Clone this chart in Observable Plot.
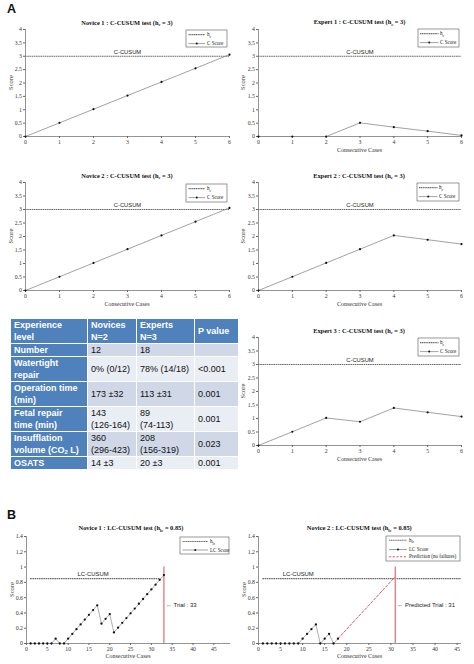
<!DOCTYPE html>
<html><head><meta charset="utf-8">
<script src="https://cdn.jsdelivr.net/npm/d3@7"></script>
<script src="https://cdn.jsdelivr.net/npm/@observablehq/plot@0.6"></script>
<style>
html,body{margin:0;padding:0;background:#fff;}
#root{position:relative;width:474px;height:664px;overflow:hidden;background:#fff;}
.tbl{position:absolute;left:10px;top:318px;width:228px;border-collapse:collapse;table-layout:fixed;font-family:"Liberation Sans",Arial,sans-serif;font-size:9px;line-height:12px;}
.tbl td{border:1px solid #fff;padding:0 0 0 3px;vertical-align:middle;overflow:hidden;white-space:nowrap;color:#111;}
.tbl td.h{background:#4f81bd;color:#fff;font-weight:bold;}
.tbl tr.d0 td.v{background:#d0d8e8;}
.tbl tr.d1 td.v{background:#e9edf4;}
.tbl sub{font-size:6px;line-height:0;vertical-align:-1px;}
</style></head>
<body><div id="root"></div>
<script>
// ---------- data ----------
const casesC = [0, 1, 2, 3, 4, 5, 6];
const novice1C = [0, 0.51, 1.02, 1.53, 2.04, 2.55, 3.06];
const novice2C = [0, 0.51, 1.02, 1.53, 2.04, 2.55, 3.06];
const expert1C = [0, 0, 0, 0.51, 0.35, 0.2, 0.04];
const expert2C = [0, 0.51, 1.02, 1.53, 2.04, 1.88, 1.72];
const expert3C = [0, 0.51, 1.02, 0.88, 1.39, 1.23, 1.07];
const hC = 3;
const cTicksX = [0, 1, 2, 3, 4, 5, 6];
const cTicksY = [0, 0.5, 1, 1.5, 2, 2.5, 3, 3.5, 4];

const novice1LC = [0, 0, 0, 0, 0, 0, 0.0625, 0, 0, 0.0625, 0.125, 0.1875, 0.25, 0.3125, 0.375, 0.4375, 0.5,
  0.26, 0.3225, 0.385, 0.145, 0.2075, 0.27, 0.3325, 0.395, 0.4575, 0.52, 0.5825, 0.645, 0.7075, 0.77, 0.8325, 0.895];
const novice2LC = [0, 0, 0, 0, 0, 0, 0, 0, 0, 0.0625, 0.125, 0.1875, 0.25, 0, 0.0625, 0.125, 0, 0.0625];
const novice2PredX = [18, 31];
const novice2PredY = [0.0625, 0.875];
const hLC = 0.85;
const trialNovice1 = 33;
const trialNovice2 = 31;
const lcTicksX = [0, 5, 10, 15, 20, 25, 30, 35, 40, 45];
const lcTicksY = [0, 0.2, 0.4, 0.6, 0.8, 1, 1.2, 1.4];

const tableHeader = ["Experience\nlevel", "Novices\nN=2", "Experts\nN=3", "P value"];
const rowLabels = ["Number", "Watertight\nrepair", "Operation time\n(min)", "Fetal repair\ntime (min)", "Insufflation\nvolume (CO2 L)", "OSATS"];
const novicesCol = ["12", "0% (0/12)", "173 ±32", "143\n(126-164)", "360\n(296-423)", "14 ±3"];
const expertsCol = ["18", "78% (14/18)", "113 ±31", "89\n(74-113)", "208\n(156-319)", "20 ±3"];
const pValues = ["", "<0.001", "0.001", "0.001", "0.023", "0.001"];

// ---------- layout ----------
const root = document.getElementById("root");
const SERIF = "Liberation Serif, Times New Roman, serif";
const SANS = "Liberation Sans, Arial, sans-serif";

function plotPanel(p) {
  const ml = 24, mr = 6, mt = 6, mb = 12;
  const w = p.px1 - p.px0 + ml + mr, h = p.py1 - p.py0 + mt + mb;
  const svg = Plot.plot({
    width: w, height: h, marginLeft: ml, marginRight: mr, marginTop: mt, marginBottom: mb,
    x: {domain: p.xd, label: null},
    y: {domain: p.yd, label: null},
    style: {background: "transparent", fontFamily: SERIF, fontSize: "5.8px", color: "#333", overflow: "visible"},
    marks: [
      Plot.axisX({ticks: p.xticks, tickSize: 2, tickPadding: 1.5, tickFormat: d => String(d), label: null, stroke: "#666"}),
      Plot.axisY({ticks: p.yticks, tickSize: 2, tickPadding: 1.5, tickFormat: d => String(d), label: null, stroke: "#666"}),
      Plot.ruleY([p.yd[0]], {stroke: "#666", strokeWidth: 0.7}),
      Plot.ruleX([p.xd[0]], {stroke: "#666", strokeWidth: 0.7}),
      ...p.marks
    ]
  });
  svg.style.position = "absolute";
  svg.style.left = (p.px0 - ml) + "px";
  svg.style.top = (p.py0 - mt) + "px";
  root.appendChild(svg);
}

function cMarks(vals) {
  const data = casesC.map((x, i) => ({x, y: vals[i]}));
  return [
    Plot.ruleY([hC], {stroke: "#6a6a6a", strokeWidth: 1.2, strokeDasharray: "1.6,0.6"}),
    Plot.text([{x: 3, y: hC, t: "C-CUSUM"}], {x: "x", y: "y", text: "t", dy: -4.3, fontFamily: SANS, fontSize: 5.8, fill: "#222"}),
    Plot.line(data, {x: "x", y: "y", stroke: "#8a8a8a", strokeWidth: 0.8}),
    Plot.dot(data, {x: "x", y: "y", r: 1.1, fill: "#111", stroke: "none"})
  ];
}

function lcMarks(vals, thr, labelX, trial, note, pred) {
  const data = vals.map((y, i) => ({x: i + 1, y}));
  const m = [
    Plot.ruleY([{y: hLC, x1: thr[0], x2: thr[1]}], {y: "y", x1: "x1", x2: "x2", stroke: "#6a6a6a", strokeWidth: 1.2, strokeDasharray: "1.6,0.6"}),
    Plot.text([{x: labelX, y: hLC, t: "LC-CUSUM"}], {x: "x", y: "y", text: "t", dy: -4.3, fontFamily: SANS, fontSize: 5.9, fill: "#222"}),
  ];
  if (pred) {
    const pd = pred[0].map((x, i) => ({x, y: pred[1][i]}));
    m.push(Plot.line(pd, {x: "x", y: "y", stroke: "#e05a5a", strokeWidth: 1, strokeDasharray: "2.6,1.8"}));
  }
  m.push(
    Plot.ruleX([{x: trial, y1: 0, y2: 1}], {x: "x", y1: "y1", y2: "y2", stroke: "#e98080", strokeWidth: 1.4}),
    Plot.text([{x: trial, y: 0.5, t: note}], {x: "x", y: "y", text: "t", textAnchor: "start", dx: 2, fontFamily: SANS, fontSize: 6, fill: "#222"}),
    Plot.line(data, {x: "x", y: "y", stroke: "#999", strokeWidth: 0.8}),
    Plot.dot(data, {x: "x", y: "y", r: 1.15, fill: "#111", stroke: "none"})
  );
  return m;
}

const panels = [
  {name: "Novice 1", kind: "C", px0: 25, px1: 229, py0: 29, py1: 136, vals: novice1C, xlab: false, tx: 127, ty: 22.7, lg: [186, 30, 41, 17]},
  {name: "Expert 1", kind: "C", px0: 258, px1: 461, py0: 29, py1: 136, vals: expert1C, xlab: true, tx: 359.5, ty: 22.2, lg: [418, 29, 41, 18]},
  {name: "Novice 2", kind: "C", px0: 25, px1: 229, py0: 182, py1: 290, vals: novice2C, xlab: true, tx: 127, ty: 175.7, lg: [186, 184, 41, 18]},
  {name: "Expert 2", kind: "C", px0: 258, px1: 461, py0: 182, py1: 290, vals: expert2C, xlab: true, tx: 359, ty: 175.7, lg: [417, 183, 42, 18]},
  {name: "Expert 3", kind: "C", px0: 258, px1: 461, py0: 337, py1: 445, vals: expert3C, xlab: true, tx: 359, ty: 330.7, lg: [418, 338, 41, 18]},
];
for (const p of panels) {
  plotPanel({px0: p.px0, px1: p.px1, py0: p.py0, py1: p.py1, xd: [0, 6], yd: [0, 4], xticks: cTicksX, yticks: cTicksY, marks: cMarks(p.vals)});
}
const lcPanels = [
  {name: "Novice 1", px0: 26, px1: 230, py0: 536, py1: 643, xd: [0, 49], tx: 131, ty: 528, lg: [180, 537, 49, 17]},
  {name: "Novice 2", px0: 258, px1: 461, py0: 536, py1: 643, xd: [0, 46], tx: 359.3, ty: 528, lg: [386, 536, 74, 25]},
];
plotPanel({px0: 26, px1: 230, py0: 536, py1: 643, xd: [0, 49], yd: [0, 1.4], xticks: lcTicksX, yticks: lcTicksY,
  marks: lcMarks(novice1LC, [1, 32.2], 16, trialNovice1, "← Trial : 33", null)});
plotPanel({px0: 258, px1: 461, py0: 536, py1: 643, xd: [0, 46], yd: [0, 1.4], xticks: lcTicksX, yticks: lcTicksY,
  marks: lcMarks(novice2LC, [1, 46], 9, trialNovice2, "← Predicted Trial : 31", [novice2PredX, novice2PredY])});

// ---------- table ----------
const tbl = d3.select(root).append("table").attr("class", "tbl");
const colW = [77, 49, 58, 44];
const rowH = [25, 13, 25, 24, 25, 23, 13];
const cg = tbl.append("colgroup");
colW.forEach(w => cg.append("col").style("width", w + "px"));
const esc = s => s.replace(/&/g, "&amp;").replace(/</g, "&lt;").replace(/\n/g, "<br>").replace("CO2", "CO<sub>2</sub>");
const hr = tbl.append("tr").style("height", rowH[0] + "px");
tableHeader.forEach(t => hr.append("td").attr("class", "h").html(esc(t)));
rowLabels.forEach((lab, i) => {
  const tr = tbl.append("tr").attr("class", i % 2 === 0 ? "d0" : "d1").style("height", rowH[i + 1] + "px");
  tr.append("td").attr("class", "h").html(esc(lab));
  tr.append("td").attr("class", "v").html(esc(novicesCol[i]));
  tr.append("td").attr("class", "v").html(esc(expertsCol[i]));
  tr.append("td").attr("class", "v").html(esc(pValues[i]));
});

// ---------- overlay texts & legends ----------
const ov = d3.select(root).append("svg").attr("width", 474).attr("height", 664)
  .style("position", "absolute").style("left", 0).style("top", 0).style("pointer-events", "none");

function title(x, y, name, test, sub, val) {
  const t = ov.append("text").attr("x", x).attr("y", y + 2).attr("text-anchor", "middle")
    .attr("font-family", SERIF).attr("font-weight", "bold").attr("font-size", 6.4).attr("fill", "#111");
  t.append("tspan").text(`${name} : ${test} test (h`);
  t.append("tspan").attr("font-size", 4.5).attr("dy", 1.6).text(sub);
  t.append("tspan").attr("dy", -1.6).text(` = ${val})`);
}
function xlabel(cx, y) {
  ov.append("text").attr("x", cx).attr("y", y + 2).attr("text-anchor", "middle")
    .attr("font-family", SERIF).attr("font-size", 6).attr("fill", "#333").text("Consecutive Cases");
}
function ylabel(x, cy) {
  ov.append("text").attr("transform", `translate(${x + 2},${cy}) rotate(-90)`).attr("text-anchor", "middle")
    .attr("font-family", SERIF).attr("font-size", 6.5).attr("fill", "#333").text("Score");
}
function legend(box, rows, sx0, sx1, tx) {
  const [x, y, w, h] = box;
  ov.append("rect").attr("x", x).attr("y", y).attr("width", w).attr("height", h)
    .attr("fill", "#fff").attr("stroke", "#555").attr("stroke-width", 0.6);
  rows.forEach(r => {
    if (r.kind === "h") {
      ov.append("line").attr("x1", sx0).attr("x2", sx1).attr("y1", r.cy).attr("y2", r.cy)
        .attr("stroke", "#6a6a6a").attr("stroke-width", 1.1).attr("stroke-dasharray", "1.3,0.5");
    } else if (r.kind === "s") {
      ov.append("line").attr("x1", sx0).attr("x2", sx1).attr("y1", r.cy).attr("y2", r.cy)
        .attr("stroke", "#8a8a8a").attr("stroke-width", 0.8);
      ov.append("circle").attr("cx", (sx0 + sx1) / 2).attr("cy", r.cy).attr("r", 1).attr("fill", "#111");
    } else {
      ov.append("line").attr("x1", sx0).attr("x2", sx1).attr("y1", r.cy).attr("y2", r.cy)
        .attr("stroke", "#e05a5a").attr("stroke-width", 1).attr("stroke-dasharray", "2.2,1.5");
    }
    const t = ov.append("text").attr("x", tx).attr("y", r.cy + 1.6)
      .attr("font-family", SERIF).attr("font-size", 5.1).attr("fill", "#222");
    t.append("tspan").text(r.label);
    if (r.sub) t.append("tspan").attr("font-size", 3.8).attr("dy", 1.4).text(r.sub);
  });
}

for (const p of panels) {
  title(p.tx, p.ty, p.name, "C-CUSUM", "c", "3");
  if (p.xlab) xlabel((p.px0 + p.px1) / 2, p.py1 + 13.5);
  ylabel(p.px0 < 200 ? 11 : 243, (p.py0 + p.py1) / 2);
  const [x, y] = p.lg;
  const left = p.px0 < 200;
  legend(p.lg, [{kind: "h", label: "h", sub: "c", cy: y + 4.6}, {kind: "s", label: "C Score", cy: y + 13.6}],
    left ? x + 2.5 : x + 2, left ? x + 19 : x + 20.5, left ? x + 21 : x + 22);
}
lcPanels.forEach((p, i) => {
  title(p.tx, p.ty, p.name, "LC-CUSUM", "lc", "0.85");
  xlabel((p.px0 + p.px1) / 2, p.py1 + 13);
  ylabel(p.px0 < 200 ? 12 : 244, (p.py0 + p.py1) / 2);
  const [x, y] = p.lg;
  if (i === 0) {
    legend(p.lg, [{kind: "h", label: "h", sub: "lc", cy: y + 4.5}, {kind: "s", label: "LC Score", cy: y + 13}], x + 2.5, x + 28, x + 30);
  } else {
    legend(p.lg, [{kind: "h", label: "h", sub: "lc", cy: y + 4.3}, {kind: "s", label: "LC Score", cy: y + 13.5},
      {kind: "p", label: "Prediction (no failures)", cy: y + 20.8}], x + 3, x + 21, x + 23);
  }
});

ov.append("text").attr("x", 7).attr("y", 13).attr("font-family", SANS).attr("font-weight", "bold")
  .attr("font-size", 12.5).attr("fill", "#111").text("A");
ov.append("text").attr("x", 7).attr("y", 518.5).attr("font-family", SANS).attr("font-weight", "bold")
  .attr("font-size", 12.5).attr("fill", "#111").text("B");
</script>
</body></html>
